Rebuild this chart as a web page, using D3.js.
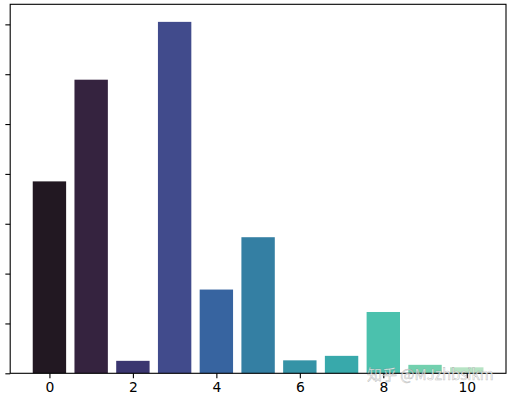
<!DOCTYPE html>
<html>
<head>
<meta charset="utf-8">
<script src="https://cdn.jsdelivr.net/npm/d3@7"></script>
<style>
  html, body { margin: 0; padding: 0; background: #fff; }
  svg { display: block; }
  .axis text { font-family: "DejaVu Sans", sans-serif; font-size: 13.9px; fill: #000; }
  .axis path, .axis line { stroke: #000; stroke-width: 1.1px; }
</style>
</head>
<body>
<svg></svg>
<script>
const width = 509;
const height = 397;

// data (y in tick units, labels cropped away)
const categories = [0, 1, 2, 3, 4, 5, 6, 7, 8, 9, 10];
const values = [3.85, 5.89, 0.25, 7.05, 1.68, 2.73, 0.26, 0.35, 1.23, 0.17, 0.12];
const colors = ['#221822', '#35233f', '#3b3670', '#414b8c', '#3764a0', '#347fa3',
                '#3593a6', '#38a9ab', '#4bc1ad', '#72d0ae', '#b6e3c4'];
const xTicks = [0, 2, 4, 6, 8, 10];
const yTicks = [0, 1, 2, 3, 4, 5, 6, 7];

const plot = { left: 10.2, right: 506, top: 4.3, bottom: 373.3 };

const svg = d3.select('svg')
  .attr('width', width)
  .attr('height', height);

// matplotlib style limits: bars +-0.4, 5% margin
const x = d3.scaleLinear()
  .domain([-0.94, 10.94])
  .range([plot.left, plot.right]);

const y = d3.scaleLinear()
  .domain([0, d3.max(values) * 1.05])
  .range([plot.bottom, plot.top]);

// bars
svg.selectAll('rect.bar')
  .data(categories)
  .enter()
  .append('rect')
    .attr('class', 'bar')
    .attr('x', d => x(d - 0.4))
    .attr('width', d => x(d + 0.4) - x(d - 0.4))
    .attr('y', (d, i) => y(values[i]))
    .attr('height', (d, i) => y(0) - y(values[i]))
    .attr('fill', (d, i) => colors[i]);

// axes
const xAxis = d3.axisBottom(x)
  .tickValues(xTicks)
  .tickSize(4.86)
  .tickPadding(3.5)
  .tickSizeOuter(0);

svg.append('g')
  .attr('class', 'axis')
  .attr('transform', `translate(0,${plot.bottom})`)
  .call(xAxis)
  .call(g => g.select('.domain').remove());

const yAxis = d3.axisLeft(y)
  .tickValues(yTicks)
  .tickSize(4.86)
  .tickFormat('')
  .tickSizeOuter(0);

svg.append('g')
  .attr('class', 'axis')
  .attr('transform', `translate(${plot.left},0)`)
  .call(yAxis)
  .call(g => g.select('.domain').remove());

// frame
svg.append('rect')
  .attr('x', plot.left)
  .attr('y', plot.top)
  .attr('width', plot.right - plot.left)
  .attr('height', plot.bottom - plot.top)
  .attr('fill', 'none')
  .attr('stroke', '#000')
  .attr('stroke-width', 1.1);

// watermark
svg.append('text')
  .attr('x', 367)
  .attr('y', 380)
  .attr('font-family', '"Noto Sans CJK SC", "DejaVu Sans", sans-serif')
  .attr('font-size', 15)
  .attr('fill', 'rgba(255,255,255,0.75)')
  .attr('stroke', 'rgba(120,120,120,0.45)')
  .attr('stroke-width', 0.6)
  .text('知乎 @MJzhbsikm');
</script>
</body>
</html>
